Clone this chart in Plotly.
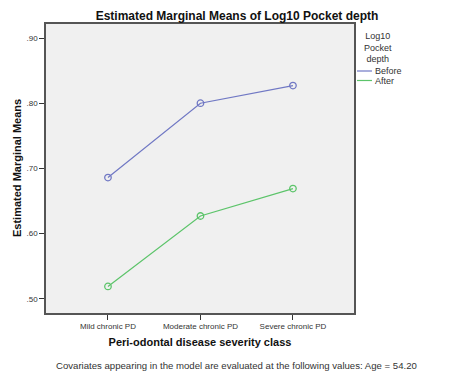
import plotly.graph_objects as go

categories = ["Mild chronic PD", "Moderate chronic PD", "Severe chronic PD"]
before_vals = [0.686, 0.800, 0.827]
after_vals = [0.519, 0.627, 0.669]
y_tick_vals = [0.50, 0.60, 0.70, 0.80, 0.90]
y_tick_text = [".50", ".60", ".70", ".80", ".90"]
series_names = ["Before", "After"]

BLUE = "#7078c4"
GREEN = "#5cc46a"
FONT = "Liberation Sans, Arial, sans-serif"

W, H = 474, 379
L, R, T, B = 46, 120, 24, 66
PW, PH = W - L - R, H - T - B


def px(x):
    return (x - L) / PW


def py(y):
    return (H - B - y) / PH


fig = go.Figure()
for name, vals, col in [(series_names[0], before_vals, BLUE), (series_names[1], after_vals, GREEN)]:
    fig.add_trace(go.Scatter(
        x=list(range(len(categories))), y=vals, mode="lines+markers", name=name,
        line=dict(color=col, width=1.2),
        marker=dict(symbol="circle-open", size=6.5, color=col, line=dict(width=1.3, color=col)),
        showlegend=False,
    ))

fig.update_layout(
    width=W, height=H,
    margin=dict(l=L, r=R, t=T, b=B),
    paper_bgcolor="white", plot_bgcolor="#f0f0f0",
    font=dict(family=FONT, color="#222"),
    title=dict(text="<b>Estimated Marginal Means of Log10 Pocket depth</b>",
               x=0.5, xref="container", xanchor="center", y=1 - 16 / H, yanchor="middle",
               font=dict(size=12, color="#111", family=FONT)),
)
fig.update_xaxes(
    range=[-0.67, 2.66], tickvals=list(range(len(categories))), ticktext=categories,
    ticks="outside", ticklen=5, tickcolor="#333", tickwidth=1,
    tickfont=dict(size=8, color="#333"), showgrid=False, zeroline=False,
    showline=True, linecolor="#555", linewidth=1.5, mirror=True,
    title=dict(text="<b>Peri-odontal disease severity class</b>", font=dict(size=11, color="#111"), standoff=8),
)
fig.update_yaxes(
    range=[0.4782, 0.9215], tickvals=y_tick_vals, ticktext=y_tick_text,
    ticks="outside", ticklen=5, tickcolor="#333", tickwidth=1,
    tickfont=dict(size=8, color="#333"), showgrid=False, zeroline=False,
    showline=True, linecolor="#555", linewidth=1.5, mirror=True,
)

# y-axis title
fig.add_annotation(xref="paper", yref="paper", x=px(17), y=py(168), text="<b>Estimated Marginal Means</b>",
                   textangle=-90, showarrow=False, xanchor="center", yanchor="middle",
                   font=dict(size=11, color="#111"))

# legend (manual, SPSS style)
fig.add_annotation(xref="paper", yref="paper", x=px(378), y=py(47),
                   text="Log10<br>Pocket<br>depth", showarrow=False, xanchor="center", yanchor="middle",
                   font=dict(size=9, color="#333"), align="center")
for i, (name, col) in enumerate([(series_names[0], BLUE), (series_names[1], GREEN)]):
    yy = py(71 + i * 9.5)
    fig.add_shape(type="line", xref="paper", yref="paper", x0=px(357), x1=px(372),
                  y0=yy, y1=yy, line=dict(color=col, width=1.2))
    fig.add_annotation(xref="paper", yref="paper", x=px(373), y=yy, text=name, showarrow=False,
                       xanchor="left", yanchor="middle", font=dict(size=9, color="#333"))

fig.add_annotation(xref="paper", yref="paper", x=px(54), y=py(365),
                   text="Covariates appearing in the model are evaluated at the following values: Age = 54.20",
                   showarrow=False, xanchor="left", yanchor="middle", font=dict(size=9.6, color="#333"))

fig.write_html("out.html", config={"displayModeBar": False},
               post_script="document.body.style.margin='0';")
